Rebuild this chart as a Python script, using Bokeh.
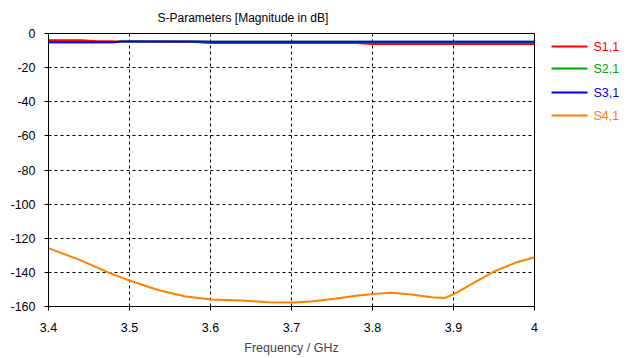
from bokeh.plotting import figure
from bokeh.layouts import row
from bokeh.models import FixedTicker, CustomJSTickFormatter, Title, Range1d
from bokeh.core.properties import value
from bokeh.embed import file_html
from bokeh.resources import INLINE

# ---- data ----
freq_s11 = [3.40, 3.44, 3.46, 3.48, 3.58, 3.60, 3.78, 3.80, 4.00]
s11 = [-4.0, -4.0, -4.5, -4.6, -5.0, -5.5, -5.6, -6.1, -6.2]

freq_s31 = [3.40, 3.48, 3.49, 3.58, 3.60, 4.00]
s31 = [-5.1, -5.1, -4.7, -4.7, -4.9, -4.9]
s21 = [-5.1, -5.1, -4.7, -4.7, -4.9, -4.9]

freq_s41 = [3.400, 3.440, 3.473, 3.500, 3.535, 3.568, 3.601, 3.638, 3.671, 3.702,
            3.724, 3.753, 3.782, 3.803, 3.823, 3.848, 3.873, 3.889, 3.901, 3.926,
            3.951, 3.976, 4.000]
s41 = [-125.8, -133.0, -139.9, -144.8, -150.3, -154.0, -155.9, -156.5, -157.5, -157.7,
       -157.1, -155.5, -153.6, -152.6, -152.0, -153.0, -154.6, -155.0, -152.6, -145.8,
       -139.3, -134.4, -131.1]

x_ticks = [3.4, 3.5, 3.6, 3.7, 3.8, 3.9, 4.0]
y_ticks = [0, -20, -40, -60, -80, -100, -120, -140, -160]

series_names = ["S1,1", "S2,1", "S3,1", "S4,1"]
series_colors = ["#ff0000", "#00a800", "#0000ff", "#ff8000"]

FONT = "Liberation Sans"
H = 357
TOP = 33
BOTTOM = 51

p = figure(width=540, height=H, output_backend="svg", toolbar_location=None,
           x_range=(3.4, 4.0), y_range=(-160, 0),
           min_border_left=48, min_border_right=6, min_border_top=TOP, min_border_bottom=BOTTOM)
p.title = Title(text="S-Parameters [Magnitude in dB]", align="left", offset=109,
                standoff=17,
                text_font=FONT, text_font_size="12px", text_font_style="normal",
                text_color="black")
p.background_fill_color = "white"
p.border_fill_color = "white"
p.outline_line_color = "black"
p.outline_line_width = 1

for ax in (p.xaxis, p.yaxis):
    ax.axis_line_color = "black"
    ax.major_tick_line_color = "black"
    ax.major_tick_out = 4
    ax.major_tick_in = 0
    ax.minor_tick_line_color = None
    ax.major_label_text_font = FONT
    ax.major_label_text_font_size = "12.5px"
    ax.major_label_text_color = "black"

p.xaxis.ticker = FixedTicker(ticks=x_ticks)
p.yaxis.ticker = FixedTicker(ticks=y_ticks)
p.xaxis.formatter = CustomJSTickFormatter(code="return tick.toFixed(1).replace('.0', '');")
p.yaxis.formatter = CustomJSTickFormatter(code="return tick.toFixed(0);")
p.xaxis.axis_label = "Frequency / GHz"
p.xaxis.axis_label_text_font = FONT
p.xaxis.axis_label_text_font_size = "12.5px"
p.xaxis.axis_label_text_font_style = "normal"
p.xaxis.axis_label_standoff = 6
p.xaxis.major_label_standoff = 12
p.yaxis.major_label_standoff = 9

for g in (p.xgrid, p.ygrid):
    g.grid_line_color = "black"
    g.grid_line_dash = "3 3"
    g.grid_line_width = 1

p.line(freq_s41, s41, line_color=series_colors[3], line_width=2)
p.line(freq_s11, s11, line_color=series_colors[0], line_width=2)
p.line(freq_s31, s21, line_color=series_colors[1], line_width=2)
p.line(freq_s31, s31, line_color=series_colors[2], line_width=2)

# ---- legend panel: frame aligned with the main frame; y in page-like pixels ----
FT, FB = TOP, H - BOTTOM
lg = figure(width=80, height=H, output_backend="svg", toolbar_location=None,
            x_range=Range1d(0, 80), y_range=Range1d(FB, FT),
            min_border_left=0, min_border_right=0,
            min_border_top=TOP, min_border_bottom=BOTTOM)
lg.axis.visible = False
lg.grid.visible = False
lg.outline_line_color = None
lg.background_fill_color = "white"
lg.border_fill_color = "white"

leg_y = [46, 68, 92, 115]
lg.segment(x0=[11] * 4, y0=leg_y, x1=[47] * 4, y1=leg_y,
           line_color=series_colors, line_width=2)
lg.text(x=[53] * 4, y=leg_y, text=series_names, text_color=series_colors,
        text_font=value(FONT), text_font_size="12.5px",
        text_baseline="middle", text_align="left")

layout = row(p, lg)
open("out.html", "w").write(file_html(layout, INLINE))
